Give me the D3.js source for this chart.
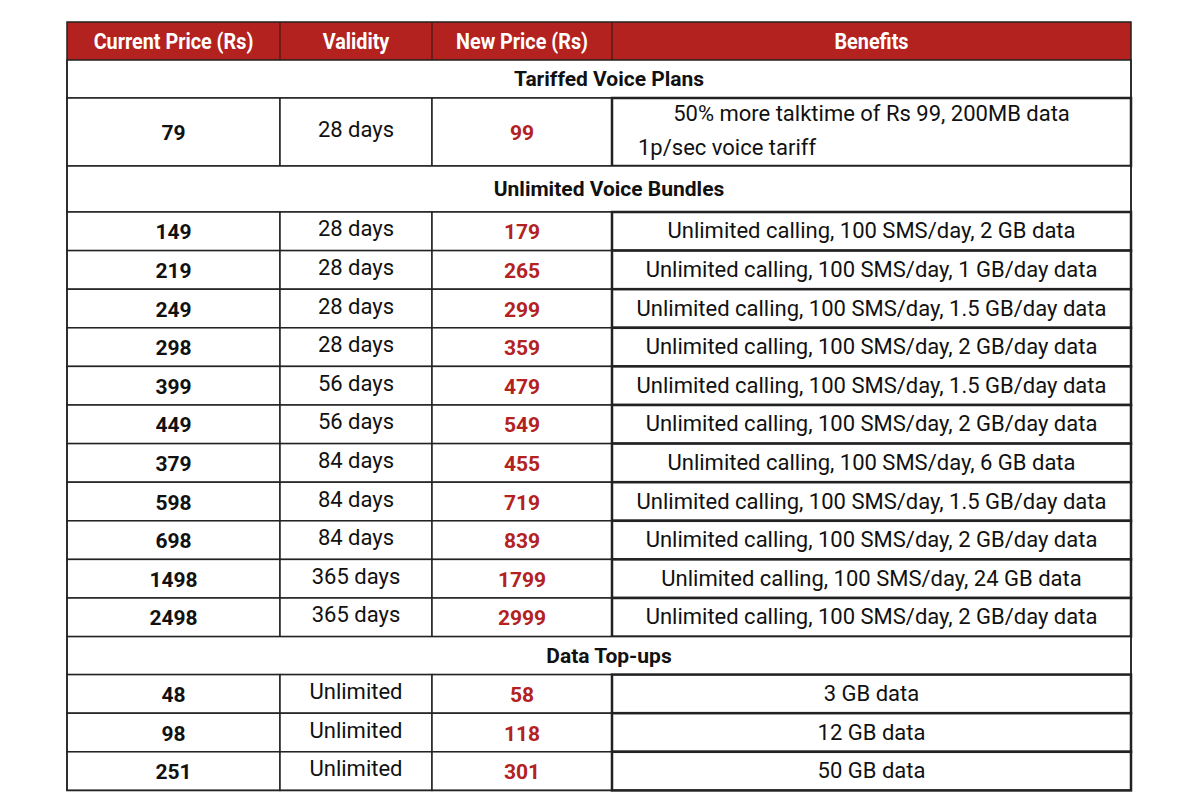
<!DOCTYPE html><html><head><meta charset="utf-8">
<script src="https://cdn.jsdelivr.net/npm/d3@7"></script>
<style>body{margin:0;background:#fff}</style></head><body><svg id="c" width="1200" height="800"></svg>
<script>
const headers=["Current Price (Rs)","Validity","New Price (Rs)","Benefits"];
const sections=["Tariffed Voice Plans","Unlimited Voice Bundles","Data Top-ups"];
const currentPrice=[79,149,219,249,298,399,449,379,598,698,1498,2498,48,98,251];
const validity=["28 days","28 days","28 days","28 days","28 days","56 days","56 days","84 days","84 days","84 days","365 days","365 days","Unlimited","Unlimited","Unlimited"];
const newPrice=[99,179,265,299,359,479,549,455,719,839,1799,2999,58,118,301];
const benefits=["50% more talktime of Rs 99, 200MB data|1p/sec voice tariff","Unlimited calling, 100 SMS/day, 2 GB data","Unlimited calling, 100 SMS/day, 1 GB/day data","Unlimited calling, 100 SMS/day, 1.5 GB/day data","Unlimited calling, 100 SMS/day, 2 GB/day data","Unlimited calling, 100 SMS/day, 1.5 GB/day data","Unlimited calling, 100 SMS/day, 2 GB/day data","Unlimited calling, 100 SMS/day, 6 GB data","Unlimited calling, 100 SMS/day, 1.5 GB/day data","Unlimited calling, 100 SMS/day, 2 GB/day data","Unlimited calling, 100 SMS/day, 24 GB data","Unlimited calling, 100 SMS/day, 2 GB/day data","3 GB data","12 GB data","50 GB data"];
const sectionOf=[0,1,1,1,1,1,1,1,1,1,1,1,2,2,2];

const svg=d3.select("#c");
const colEdges=[67,280,432,612,1131];
const x=d3.scaleOrdinal().domain(d3.range(4)).range(colEdges.slice(0,4));
const w=i=>colEdges[i+1]-colEdges[i];
const F="Roboto, sans-serif";
const rows=[];let y=22;
rows.push({type:"h",y,h:38});y+=38;
let prev=-1;
currentPrice.forEach((c,i)=>{
  if(sectionOf[i]!==prev){rows.push({type:"s",y,h:38,t:sections[sectionOf[i]]});y+=38;prev=sectionOf[i];if(i>0&&sectionOf[i]==1){rows[rows.length-1].h=46;y+=8;}}
  const h=i===0?68:38.6;
  rows.push({type:"r",y,h,i});y+=h;
});
const g=svg.append("g");
rows.forEach(r=>{
  if(r.type==="h"){
    g.append("rect").attr("x",67).attr("y",r.y).attr("width",1064).attr("height",r.h).attr("fill","#b3221f");
    headers.forEach((t,k)=>{
      const tx=g.append("text").attr("x",x(k)+w(k)/2).attr("y",r.y+r.h/2+8).attr("text-anchor","middle")
        .attr("font-family",F).attr("font-weight",700).attr("font-size",22).attr("fill","#fff").text(t);
      const L=tx.node().getComputedTextLength();
      tx.attr("textLength",L*0.9).attr("lengthAdjust","spacingAndGlyphs");
      if(k>0)g.append("line").attr("x1",x(k)).attr("x2",x(k)).attr("y1",r.y).attr("y2",r.y+r.h).attr("stroke","#5a1a18").attr("stroke-width",1.5);
    });
  } else if(r.type==="s"){
    g.append("rect").attr("x",67).attr("y",r.y).attr("width",1064).attr("height",r.h).attr("fill","#fff").attr("stroke","#222").attr("stroke-width",1.5);
    g.append("text").attr("x",609).attr("y",r.y+r.h/2+7).attr("text-anchor","middle").attr("font-family",F).attr("font-weight",700).attr("font-size",21).attr("fill","#111").text(r.t);
  } else {
    const i=r.i;
    [0,1,2,3].forEach(k=>g.append("rect").attr("x",x(k)).attr("y",r.y).attr("width",w(k)).attr("height",r.h).attr("fill","#fff").attr("stroke","#222").attr("stroke-width",k===3?2.5:1.5));
    const cy=r.y+r.h/2+8;
    g.append("text").attr("x",x(0)+w(0)/2).attr("y",cy).attr("text-anchor","middle").attr("font-family",F).attr("font-weight",700).attr("font-size",21).attr("fill","#111").text(currentPrice[i]);
    g.append("text").attr("x",x(1)+w(1)/2).attr("y",cy-3).attr("text-anchor","middle").attr("font-family",F).attr("font-size",22).attr("fill","#111").text(validity[i]);
    g.append("text").attr("x",x(2)+w(2)/2).attr("y",cy).attr("text-anchor","middle").attr("font-family",F).attr("font-weight",700).attr("font-size",21).attr("fill","#b3221f").text(newPrice[i]);
    const parts=benefits[i].split("|");
    if(parts.length>1){
      g.append("text").attr("x",x(3)+w(3)/2).attr("y",r.y+23).attr("text-anchor","middle").attr("font-family",F).attr("font-size",22).attr("fill","#111").text(parts[0]);
      g.append("text").attr("x",x(3)+26).attr("y",r.y+57).attr("font-family",F).attr("font-size",22).attr("fill","#111").text(parts[1]);
    } else g.append("text").attr("x",x(3)+w(3)/2).attr("y",cy-1).attr("text-anchor","middle").attr("font-family",F).attr("font-size",22).attr("fill","#111").text(parts[0]);
  }
});
g.append("rect").attr("x",67).attr("y",22).attr("width",1064).attr("height",y-22).attr("fill","none").attr("stroke","#222").attr("stroke-width",1.5);
</script></body></html>
